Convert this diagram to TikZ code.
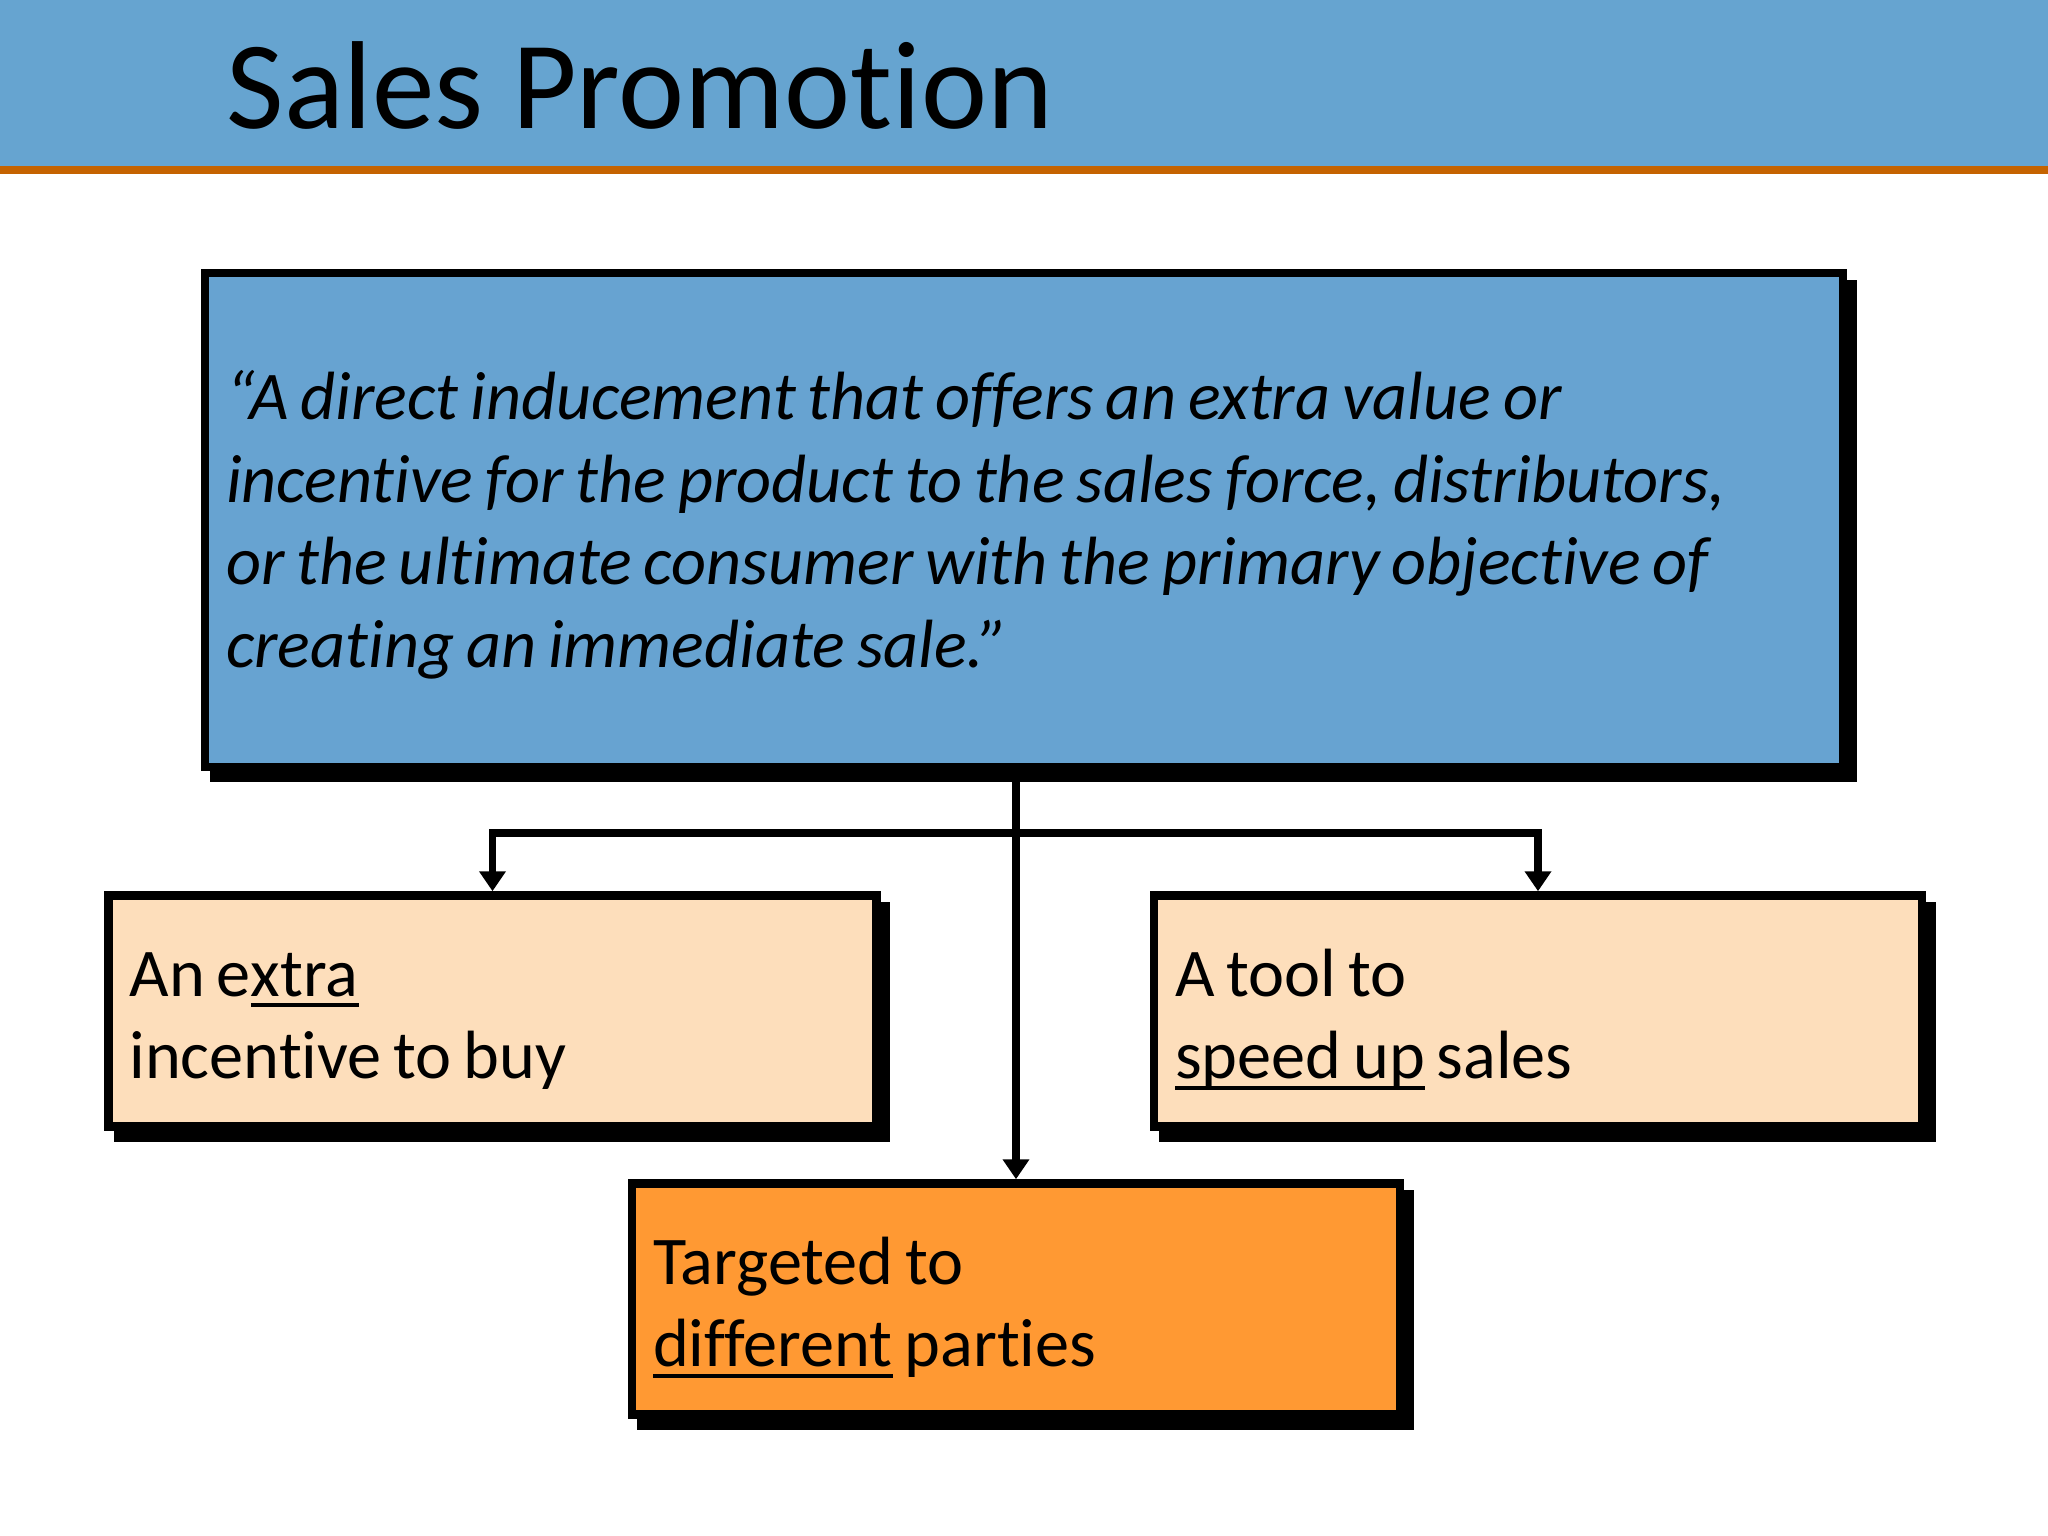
\documentclass[tikz,border=0pt]{standalone}
\usepackage{fontspec}
\setmainfont{Carlito}[Ligatures={TeX,NoCommon}]
\usepackage{xcolor}
\usepackage{tikz}
\usetikzlibrary{arrows.meta,shadows,positioning}
\definecolor{slideblue}{RGB}{102,164,208}
\definecolor{boxblue}{RGB}{103,163,209}
\definecolor{rustline}{RGB}{197,99,0}
\definecolor{peach}{RGB}{253,222,187}
\definecolor{tangerine}{RGB}{255,153,51}
\newcommand{\px}{0.3515625pt}
\newcommand{\ulword}[1]{\leavevmode\setbox0=\hbox{#1}\rlap{\rule[-4pt]{\wd0}{1.4pt}}\box0\relax}

\begin{document}
\begin{tikzpicture}[x=\px,y=-\px,
		box/.style={draw=black,line width=3pt,inner xsep=21*\px,inner ysep=0pt,align=left,
			font=\fontsize{24pt}{29pt}\selectfont,text height=0pt,
			execute at begin node={\frenchspacing\spaceskip=4.2pt plus 1pt minus 1pt\xspaceskip=4.2pt plus 1pt minus 1pt\relax},
			drop shadow={shadow xshift=3.3pt,shadow yshift=-3.9pt,fill=black,draw=black,line width=3pt,opacity=1}},
		small/.style={box,minimum width=768*\px,minimum height=231*\px,text width=726*\px,text depth=30*\px},
		link/.style={line width=2.8pt,line join=miter},
		tip/.style={-{Triangle[width=9pt,length=7pt]}}]
		\useasboundingbox (0,0) rectangle (2048,1536);
		\fill[white] (0,0) rectangle (2048,1536);
		\fill[slideblue] (0,0) rectangle (2048,166);
		\fill[rustline] (0,166) rectangle (2048,174);
		\node[anchor=base west,inner sep=0pt,font=\fontsize{44pt}{53pt}\selectfont] (title) at (226,129) {Sales Promotion};
		\node[box,fill=boxblue,minimum width=1638*\px,minimum height=494*\px,text width=1596*\px,text depth=200*\px,
			font=\fontsize{24pt}{29pt}\selectfont\itshape] (def) at (1024,520)
			{“A direct inducement that offers an extra value or\\
			incentive for the product to the sales force, distributors,\\
			or the ultimate consumer with the primary objective of\\
			creating an immediate sale.”};
		\node[small,fill=peach] (extra) at (492.5,1011) {An e\ulword{xtra}\\incentive to buy};
		\node[small,fill=peach] (tool) at (1538,1011) {A tool to\\\ulword{speed up} sales};
		\node[small,fill=tangerine] (target) at (1016,1299) {Targeted to\\\ulword{different} parties};
		\coordinate (bar) at (0,833);
		\coordinate (split) at (target.north |- bar);
		\draw[link,tip] (def.south -| target.north) -- (target.north);
		\draw[link,tip] (split) -| (extra.north);
		\draw[link,tip] (split) -| (tool.north);
	\end{tikzpicture}
\end{document}
